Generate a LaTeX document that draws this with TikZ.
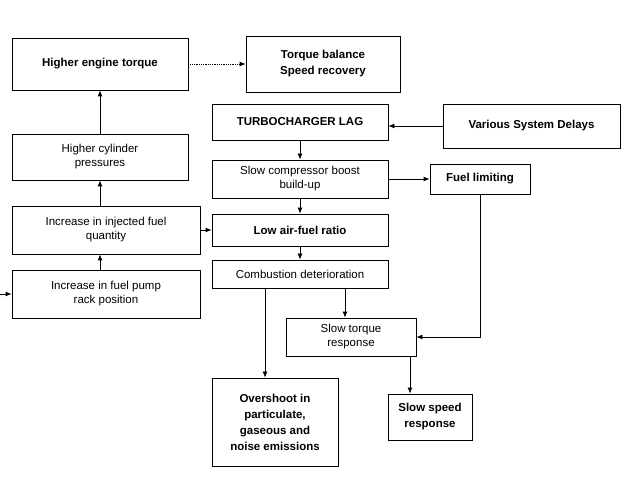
\documentclass[tikz,border=0pt]{standalone}
\usepackage{fontspec}
\setmainfont{Liberation Sans}
\usetikzlibrary{arrows.meta,positioning}
\begin{document}
\begin{tikzpicture}[x=1pt,y=-1pt,
  box/.style={draw,thick,align=center,inner sep=2pt,font=\fontsize{11.5}{14}\selectfont},
  bb/.style={box,font=\fontsize{11.5}{16}\selectfont\bfseries},
  arr/.style={-{Latex[length=6pt,width=5pt]},thick}]
\useasboundingbox (0,0) rectangle (638,478);
\newcommand\bx[7]{\node[#1,minimum width=#4-#2,minimum height=#5-#3] (#6) at ({(#2+#4)/2},{(#3+#5)/2}) {#7};}
\bx{bb}{12}{38}{188}{90}{het}{Higher engine torque}
\bx{bb}{246}{36}{400}{92}{tb}{Torque balance\\Speed recovery}
\bx{bb}{212}{104}{388}{140}{tl}{TURBOCHARGER LAG}
\bx{bb}{443}{104}{620}{148}{vsd}{Various System Delays}
\bx{box}{12}{134}{188}{180}{hcp}{Higher cylinder\\pressures}
\bx{box}{212}{160}{388}{198}{scb}{Slow compressor boost\\build-up}
\bx{bb}{430}{164}{530}{194}{fl}{Fuel limiting}
\bx{box}{12}{206}{200}{254}{iif}{Increase in injected fuel\\quantity}
\bx{bb}{212}{214}{388}{246}{laf}{Low air-fuel ratio}
\bx{box}{212}{260}{388}{288}{cd}{Combustion deterioration}
\bx{box}{12}{270}{200}{318}{ipr}{Increase in fuel pump\\rack position}
\bx{box}{286}{318}{416}{356}{str}{Slow torque\\response}
\bx{bb}{212}{378}{338}{466}{ov}{Overshoot in\\particulate,\\gaseous and\\noise emissions}
\bx{bb}{388}{394}{472}{440}{ssr}{Slow speed\\response}
\coordinate (in) at (0,294);
\draw[arr,densely dotted] (het) -- (tb);
\draw[arr] (vsd.west) -- (vsd.west -| tl.east);
\draw[arr] (tl) -- (scb);
\draw[arr] (scb.east) -- (scb.east -| fl.west);
\draw[arr] (scb) -- (laf);
\draw[arr] (fl.south) |- (str.east);
\draw[arr] (laf) -- (cd);
\draw[arr] (cd.south -| 345,0) -- (str.north -| 345,0);
\draw[arr] (cd.south -| 265,0) -- (ov.north -| 265,0);
\draw[arr] (str.south -| 410,0) -- (ssr.north -| 410,0);
\draw[arr] (iif.east) -- (iif.east -| laf.west);
\draw[arr] (ipr.north -| 100,0) -- (iif.south -| 100,0);
\draw[arr] (iif.north -| 100,0) -- (hcp.south -| 100,0);
\draw[arr] (hcp.north -| 100,0) -- (het.south -| 100,0);
\draw[arr] (in) -- (ipr.west);
\end{tikzpicture}
\end{document}
